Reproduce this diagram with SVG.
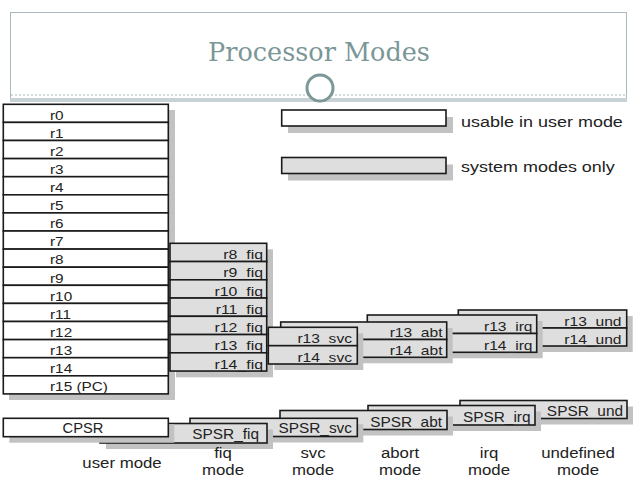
<svg xmlns="http://www.w3.org/2000/svg" width="638" height="479" viewBox="0 0 638 479">
<style>
.bx{stroke:#1a1a1a;stroke-width:1.6}
.w{fill:#ffffff}
.g{fill:#dedede}
.sh{fill:#c2c2c2;stroke:none}
.t{font-family:"Liberation Sans",Arial,sans-serif;font-size:13px;fill:#222}
.e{text-anchor:end}
.s{font-family:"Liberation Sans",Arial,sans-serif;font-size:14px;fill:#222}
.m{font-family:"Liberation Sans",Arial,sans-serif;font-size:15px;fill:#222;text-anchor:middle}
.lg{font-family:"Liberation Sans",Arial,sans-serif;font-size:14.5px;fill:#222}
.cn{stroke:#1a1a1a;stroke-width:1.8;fill:none}
</style>
<rect width="638" height="479" fill="#ffffff"/>
<g id="title">
<rect x="10.5" y="12.5" width="616" height="86" fill="none" stroke="#a9b9bd" stroke-width="1"/>
<line x1="11" y1="95" x2="626" y2="95" stroke="#a9b9bd" stroke-width="1" stroke-dasharray="2 2"/>
<rect x="10" y="98" width="617" height="4" fill="#c8d2d4"/>
<circle cx="320" cy="88" r="13" fill="#ffffff" stroke="#7b9797" stroke-width="3"/>
<text x="319" y="61" font-family="DejaVu Serif, serif" font-size="25.5" fill="#7b9797" text-anchor="middle">Processor Modes</text>
</g>

<g id="legend">
<g id="legend-user">
<rect class="sh" x="288" y="117" width="165" height="16"/>
<rect class="bx w" x="281.7" y="110" width="164.3" height="16"/>
<text class="lg" transform="translate(461 127.3) scale(1.24 1)">usable in user mode</text>
</g>
<g id="legend-system">
<rect class="sh" x="288" y="164.5" width="165" height="16"/>
<rect class="bx g" x="281.7" y="157.5" width="164.3" height="16"/>
<text class="lg" transform="translate(461 172) scale(1.24 1)">system modes only</text>
</g>
</g>

<g id="connectors">
<line class="cn" x1="168" y1="243.3" x2="173" y2="243.3"/>
<line class="cn" x1="168" y1="261.55" x2="173" y2="261.55"/>
<line class="cn" x1="168" y1="279.8" x2="173" y2="279.8"/>
<line class="cn" x1="168" y1="298.05" x2="173" y2="298.05"/>
<line class="cn" x1="168" y1="316.3" x2="173" y2="316.3"/>
<line class="cn" x1="168" y1="334.55" x2="173" y2="334.55"/>
<line class="cn" x1="168" y1="352.8" x2="173" y2="352.8"/>
<line class="cn" x1="168" y1="371" x2="173" y2="371"/>
<line class="cn" x1="266.7" y1="325" x2="272" y2="325"/>
<line class="cn" x1="266.7" y1="345.7" x2="272" y2="345.7"/>
<line class="cn" x1="266.7" y1="364" x2="272" y2="364"/>
</g>

<g id="user-mode">
<rect class="sh" x="9" y="110" width="166" height="290"/>
<g id="r0"><rect class="bx w" x="3.3" y="104.3" width="165" height="18.1"/><text class="t" transform="translate(50 119.6) scale(1.18 1)">r0</text></g>
<g id="r1"><rect class="bx w" x="3.3" y="122.4" width="165" height="18.1"/><text class="t" transform="translate(50 137.7) scale(1.18 1)">r1</text></g>
<g id="r2"><rect class="bx w" x="3.3" y="140.5" width="165" height="18.1"/><text class="t" transform="translate(50 155.8) scale(1.18 1)">r2</text></g>
<g id="r3"><rect class="bx w" x="3.3" y="158.6" width="165" height="18.1"/><text class="t" transform="translate(50 173.9) scale(1.18 1)">r3</text></g>
<g id="r4"><rect class="bx w" x="3.3" y="176.7" width="165" height="18.1"/><text class="t" transform="translate(50 192) scale(1.18 1)">r4</text></g>
<g id="r5"><rect class="bx w" x="3.3" y="194.8" width="165" height="18.1"/><text class="t" transform="translate(50 210.1) scale(1.18 1)">r5</text></g>
<g id="r6"><rect class="bx w" x="3.3" y="212.9" width="165" height="18.1"/><text class="t" transform="translate(50 228.2) scale(1.18 1)">r6</text></g>
<g id="r7"><rect class="bx w" x="3.3" y="231" width="165" height="18.1"/><text class="t" transform="translate(50 246.3) scale(1.18 1)">r7</text></g>
<g id="r8"><rect class="bx w" x="3.3" y="249.1" width="165" height="18.1"/><text class="t" transform="translate(50 264.4) scale(1.18 1)">r8</text></g>
<g id="r9"><rect class="bx w" x="3.3" y="267.2" width="165" height="18.1"/><text class="t" transform="translate(50 282.5) scale(1.18 1)">r9</text></g>
<g id="r10"><rect class="bx w" x="3.3" y="285.3" width="165" height="18.1"/><text class="t" transform="translate(50 300.6) scale(1.18 1)">r10</text></g>
<g id="r11"><rect class="bx w" x="3.3" y="303.4" width="165" height="18.1"/><text class="t" transform="translate(50 318.7) scale(1.18 1)">r11</text></g>
<g id="r12"><rect class="bx w" x="3.3" y="321.5" width="165" height="18.1"/><text class="t" transform="translate(50 336.8) scale(1.18 1)">r12</text></g>
<g id="r13"><rect class="bx w" x="3.3" y="339.6" width="165" height="18.1"/><text class="t" transform="translate(50 354.9) scale(1.18 1)">r13</text></g>
<g id="r14"><rect class="bx w" x="3.3" y="357.7" width="165" height="18.1"/><text class="t" transform="translate(50 373) scale(1.18 1)">r14</text></g>
<g id="r15"><rect class="bx w" x="3.3" y="375.8" width="165" height="18.1"/><text class="t" transform="translate(50 391.1) scale(1.18 1)">r15 (PC)</text></g>
</g>

<g id="fiq-mode">
<rect class="sh" x="176" y="249.3" width="97" height="128"/>
<g id="r8_fiq"><rect class="bx g" x="170" y="243.3" width="96.7" height="18.25"/><text class="t e" transform="translate(263 259) scale(1.22 1)">r8_fiq</text></g>
<g id="r9_fiq"><rect class="bx g" x="170" y="261.55" width="96.7" height="18.25"/><text class="t e" transform="translate(263 277.25) scale(1.22 1)">r9_fiq</text></g>
<g id="r10_fiq"><rect class="bx g" x="170" y="279.8" width="96.7" height="18.25"/><text class="t e" transform="translate(263 295.5) scale(1.22 1)">r10_fiq</text></g>
<g id="r11_fiq"><rect class="bx g" x="170" y="298.05" width="96.7" height="18.25"/><text class="t e" transform="translate(263 313.75) scale(1.22 1)">r11_fiq</text></g>
<g id="r12_fiq"><rect class="bx g" x="170" y="316.3" width="96.7" height="18.25"/><text class="t e" transform="translate(263 332) scale(1.22 1)">r12_fiq</text></g>
<g id="r13_fiq"><rect class="bx g" x="170" y="334.55" width="96.7" height="18.25"/><text class="t e" transform="translate(263 350.25) scale(1.22 1)">r13_fiq</text></g>
<g id="r14_fiq"><rect class="bx g" x="170" y="352.8" width="96.7" height="18.25"/><text class="t e" transform="translate(263 368.5) scale(1.22 1)">r14_fiq</text></g>
</g>

<g id="und-mode">
<rect class="sh" x="464.3" y="316" width="168.4" height="36"/>
<g id="r13_und"><rect class="bx g" x="458.3" y="310" width="168.4" height="18"/><text class="t e" transform="translate(621.5 325.5) scale(1.2 1)">r13_und</text></g>
<g id="r14_und"><rect class="bx g" x="458.3" y="328" width="168.4" height="18"/><text class="t e" transform="translate(621.5 343.5) scale(1.2 1)">r14_und</text></g>
</g>

<g id="irq-mode">
<rect class="sh" x="373.3" y="321" width="169.4" height="37.3"/>
<g id="r13_irq"><rect class="bx g" x="367.3" y="315" width="169.4" height="18.5"/><text class="t e" transform="translate(532.5 330.7) scale(1.2 1)">r13_irq</text></g>
<g id="r14_irq"><rect class="bx g" x="367.3" y="333.5" width="169.4" height="18.8"/><text class="t e" transform="translate(532.5 349.5) scale(1.2 1)">r14_irq</text></g>
</g>

<g id="abt-mode">
<rect class="sh" x="286.7" y="328" width="166" height="35.3"/>
<g id="r13_abt"><rect class="bx g" x="280.7" y="322" width="166" height="17.5"/><text class="t e" transform="translate(442.5 337) scale(1.2 1)">r13_abt</text></g>
<g id="r14_abt"><rect class="bx g" x="280.7" y="339.5" width="166" height="17.8"/><text class="t e" transform="translate(442.5 355) scale(1.2 1)">r14_abt</text></g>
</g>

<g id="svc-mode">
<rect class="sh" x="274.3" y="333.3" width="89" height="36.7"/>
<g id="r13_svc"><rect class="bx g" x="268.3" y="327.3" width="89" height="18.4"/><text class="t e" transform="translate(352 343.3) scale(1.2 1)">r13_svc</text></g>
<g id="r14_svc"><rect class="bx g" x="268.3" y="345.7" width="89" height="18.3"/><text class="t e" transform="translate(352 361.6) scale(1.2 1)">r14_svc</text></g>
</g>

<g id="status-registers">
<g id="SPSR_und"><rect class="sh" x="466" y="406.5" width="167" height="18"/><rect class="bx g" x="460" y="400.5" width="167" height="18"/><text class="s e" transform="translate(623 415.5) scale(1.1 1)">SPSR_und</text></g>
<g id="SPSR_irq"><rect class="sh" x="374" y="411.5" width="167" height="19.5"/><rect class="bx g" x="368" y="405.5" width="167" height="19.5"/><text class="s e" transform="translate(530.5 421.5) scale(1.1 1)">SPSR_irq</text></g>
<g id="SPSR_abt"><rect class="sh" x="286" y="416.5" width="167" height="19"/><rect class="bx g" x="280" y="410.5" width="167" height="19"/><text class="s e" transform="translate(442 426.5) scale(1.1 1)">SPSR_abt</text></g>
<g id="SPSR_svc"><rect class="sh" x="196" y="424.3" width="167.3" height="18.2"/><rect class="bx g" x="190" y="418.3" width="167.3" height="18.2"/><text class="s e" transform="translate(352 432.5) scale(1.1 1)">SPSR_svc</text></g>
<g id="SPSR_fiq"><rect class="sh" x="106" y="429.5" width="167" height="19.5"/><rect class="bx g" x="100" y="423.5" width="167" height="19.5"/><text class="s e" transform="translate(259 438.5) scale(1.1 1)">SPSR_fiq</text></g>
<g id="CPSR"><rect class="sh" x="9.3" y="424.3" width="165" height="18.4"/><rect class="bx w" x="3.3" y="418.3" width="165" height="18.4"/><text class="s" text-anchor="middle" transform="translate(83 433) scale(1.05 1)">CPSR</text></g>
</g>

<g id="mode-labels">
<text class="m" transform="translate(122 468) scale(1.12 1)">user mode</text>
<text class="m" transform="translate(223 458) scale(1.12 1)">fiq</text>
<text class="m" transform="translate(223 475) scale(1.12 1)">mode</text>
<text class="m" transform="translate(313 458) scale(1.12 1)">svc</text>
<text class="m" transform="translate(313 475) scale(1.12 1)">mode</text>
<text class="m" transform="translate(400 458) scale(1.12 1)">abort</text>
<text class="m" transform="translate(400 475) scale(1.12 1)">mode</text>
<text class="m" transform="translate(489 458) scale(1.12 1)">irq</text>
<text class="m" transform="translate(489 475) scale(1.12 1)">mode</text>
<text class="m" transform="translate(578 458) scale(1.12 1)">undefined</text>
<text class="m" transform="translate(578 475) scale(1.12 1)">mode</text>
</g>
</svg>
